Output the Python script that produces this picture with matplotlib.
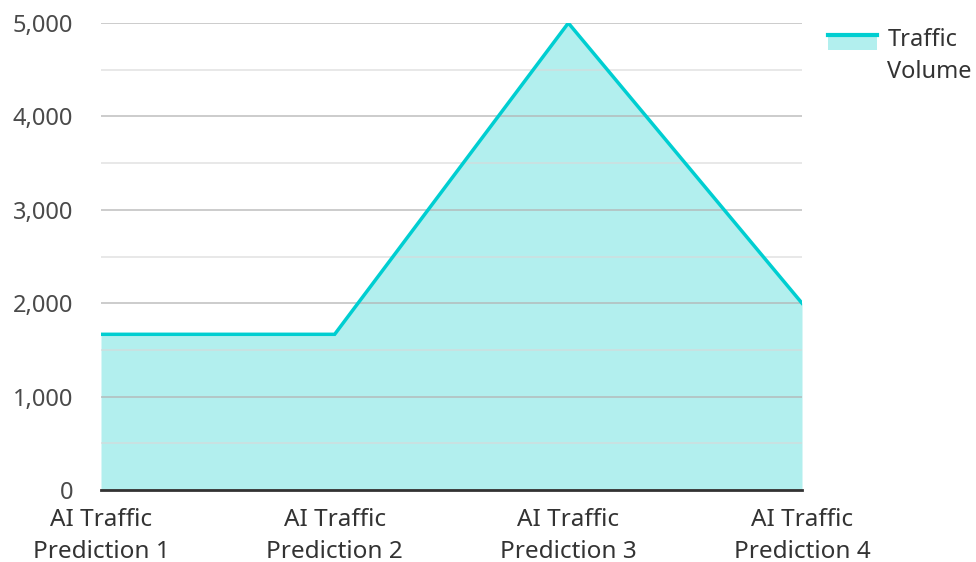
import matplotlib
matplotlib.use("Agg")
import matplotlib.pyplot as plt
from matplotlib.legend_handler import HandlerBase
from matplotlib.patches import Rectangle
from matplotlib.lines import Line2D
from matplotlib.ticker import MultipleLocator, FuncFormatter

plt.rcParams['font.family'] = ['Noto Sans', 'DejaVu Sans']

# data
categories = ["AI Traffic\nPrediction 1", "AI Traffic\nPrediction 2",
              "AI Traffic\nPrediction 3", "AI Traffic\nPrediction 4"]
traffic_volume = [1667, 1667, 5000, 2000]
series_name = "Traffic\nVolume"

line_col = "#00CED1"
fill_col = "#B2EFEE"


class AreaHandler(HandlerBase):
    # small box with line on top, aligned with first text line
    def create_artists(self, legend, orig, xd, yd, w, h, fontsize, trans):
        off = 1.25 * h
        r = Rectangle((xd, yd - 0.3 * h + off), w, h * 0.9, facecolor=fill_col,
                      edgecolor="none", transform=trans)
        ln = Line2D([xd, xd + w], [yd + 0.6 * h + off] * 2, color=line_col,
                    lw=3, transform=trans)
        return [r, ln]


fig = plt.figure(figsize=(9.76, 5.62), dpi=100)
ax = fig.add_axes([101 / 976, 72 / 562, 701 / 976, 467 / 562])

x = list(range(len(categories)))
ax.fill_between(x, traffic_volume, 0, color=fill_col, lw=0, zorder=1)
ln, = ax.plot(x, traffic_volume, color=line_col, lw=2.5, zorder=3,
              solid_joinstyle="miter")

ax.set_xlim(0, len(categories) - 1)
ax.set_ylim(0, 5000)
ax.yaxis.set_major_locator(MultipleLocator(1000))
ax.yaxis.set_minor_locator(MultipleLocator(500))
ax.yaxis.set_major_formatter(FuncFormatter(lambda v, p: f"{int(v):,}"))
ax.grid(True, which="major", axis="y", color="#b4b4b4", lw=1.2, alpha=0.8, zorder=2)
ax.grid(True, which="minor", axis="y", color="#d8d8d8", lw=1.2, alpha=0.7, zorder=2)
ax.set_axisbelow(False)

ax.set_xticks(x)
ax.set_xticklabels(categories, fontsize=17.5, color="#333333", linespacing=1.42)
ax.tick_params(axis="y", labelsize=17, labelcolor="#4a4a4a", length=0, pad=20, which="both")
ax.tick_params(axis="x", length=0, pad=13)

for s in ["top", "right", "left"]:
    ax.spines[s].set_visible(False)
ax.spines["bottom"].set_color("#333333")
ax.spines["bottom"].set_linewidth(2)
ax.spines["bottom"].set_zorder(4)

leg = fig.legend([ln], [series_name], handler_map={Line2D: AreaHandler()},
                 loc="upper left", bbox_to_anchor=(807 / 976, 1 - 7 / 562),
                 frameon=False, fontsize=17, handlelength=2.08, handletextpad=0.42,
                 labelspacing=0.2)
for t in leg.get_texts():
    t.set_color("#333333")
    t.set_linespacing(1.45)

fig.savefig("out.png", dpi=100)
